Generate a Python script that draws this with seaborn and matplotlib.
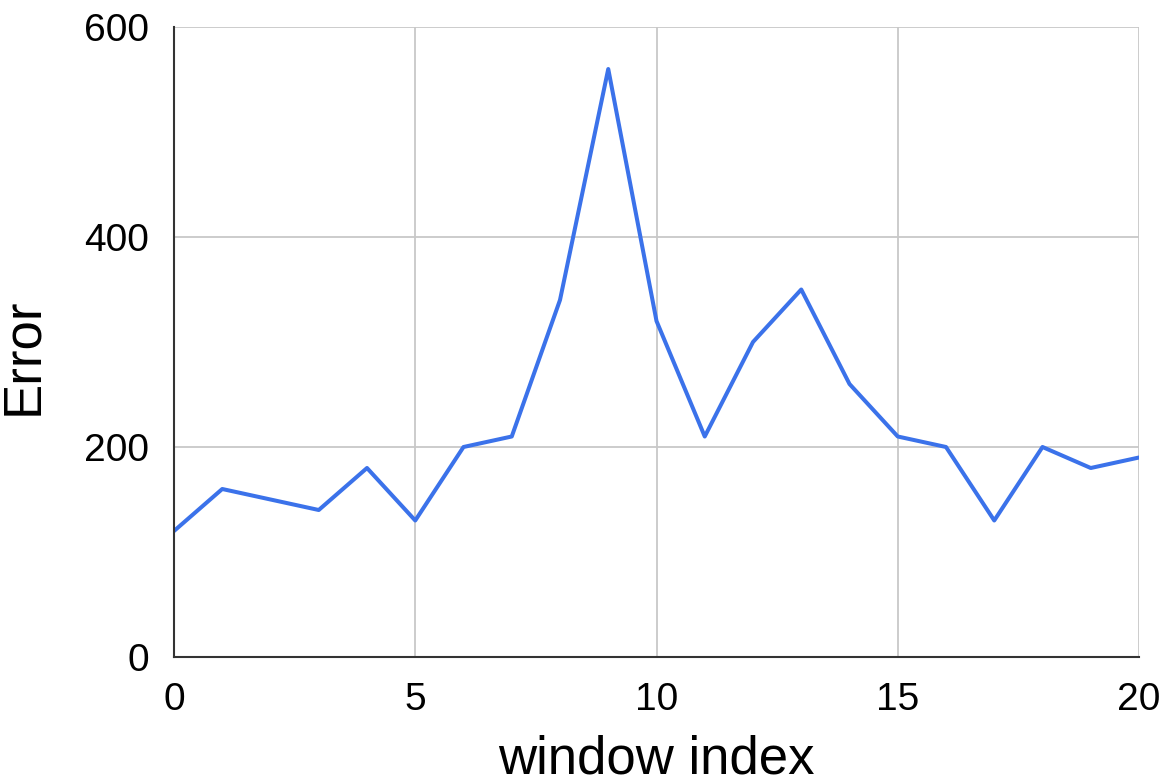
import matplotlib
matplotlib.use("Agg")
import matplotlib.pyplot as plt
import seaborn as sns
import pandas as pd

window_index = list(range(0, 21))
error = [120, 160, 150, 140, 180, 130, 200, 210, 340, 560, 320,
         210, 300, 350, 260, 210, 200, 130, 200, 180, 190]
x_ticks = [0, 5, 10, 15, 20]
y_ticks = [0, 200, 400, 600]

sns.set_theme(style="white")
plt.rcParams['font.family'] = ['Liberation Sans', 'DejaVu Sans']

df = pd.DataFrame({"window index": window_index, "Error": error})

fig = plt.figure(figsize=(11.68, 7.83), dpi=100)
ax = fig.add_axes([174/1168, 1 - 657/783, (1139-174)/1168, (657-27)/783])

sns.lineplot(data=df, x="window index", y="Error", ax=ax,
             color="#3b72ea", linewidth=2.9)

ax.set_xlim(0, 20)
ax.set_ylim(0, 600)
ax.set_xticks(x_ticks)
ax.set_yticks(y_ticks)
ax.grid(True, color="#c8c8c8", linewidth=1.3)
ax.set_axisbelow(True)
for s in ["top", "right"]:
    ax.spines[s].set_visible(False)
ax.spines["left"].set_color("#333333")
ax.spines["bottom"].set_color("#333333")
ax.spines["left"].set_linewidth(1.5)
ax.spines["bottom"].set_linewidth(1.5)
ax.tick_params(axis="both", labelsize=28, labelcolor="black", length=0, pad=18)
ax.set_xlabel("window index", fontsize=38, labelpad=12, color="black")
ax.set_ylabel("Error", fontsize=38, labelpad=26, color="black")
ax.yaxis.label.set_y(0.478)

fig.savefig("out.png", dpi=100)
